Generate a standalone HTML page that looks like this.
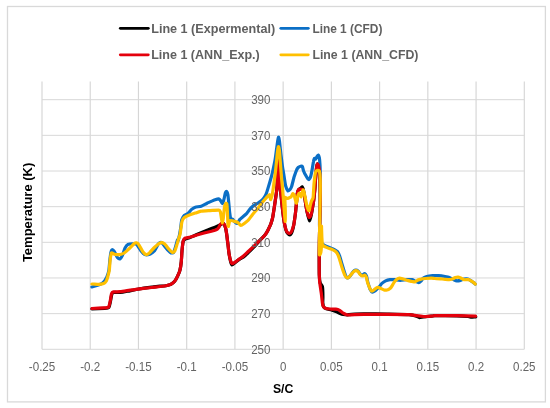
<!DOCTYPE html>
<html><head><meta charset="utf-8"><title>Chart</title>
<style>
html,body{margin:0;padding:0;background:#fff;}
svg{display:block}
text{font-family:"Liberation Sans",sans-serif;}
.t{font-size:12.4px;fill:#646464;}
.lg{font-size:12.2px;font-weight:bold;fill:#606060;}
.ax{font-size:12.6px;font-weight:bold;fill:#000;}
.c{fill:none;stroke-width:3.2;stroke-linecap:round;stroke-linejoin:round;}
</style></head><body>
<svg width="550" height="408" viewBox="0 0 550 408">
<rect x="0" y="0" width="550" height="408" fill="#fff"/>
<rect x="7.5" y="6.5" width="537.9" height="395.4" fill="#fff" stroke="#d9d9d9" stroke-width="1.3"/>
<g stroke="#d6d6d6" stroke-width="1.15" fill="none">
<line x1="42.00" y1="81.6" x2="42.00" y2="349.30"/>
<line x1="90.23" y1="81.6" x2="90.23" y2="349.30"/>
<line x1="138.46" y1="81.6" x2="138.46" y2="349.30"/>
<line x1="186.69" y1="81.6" x2="186.69" y2="349.30"/>
<line x1="234.92" y1="81.6" x2="234.92" y2="349.30"/>
<line x1="283.15" y1="81.6" x2="283.15" y2="349.30"/>
<line x1="331.38" y1="81.6" x2="331.38" y2="349.30"/>
<line x1="379.61" y1="81.6" x2="379.61" y2="349.30"/>
<line x1="427.84" y1="81.6" x2="427.84" y2="349.30"/>
<line x1="476.07" y1="81.6" x2="476.07" y2="349.30"/>
<line x1="524.30" y1="81.6" x2="524.30" y2="349.30"/>
</g><g stroke="#d8d8d8" stroke-width="1" fill="none">
<line x1="42.00" y1="349.30" x2="524.30" y2="349.30"/>
<line x1="42.00" y1="313.64" x2="524.30" y2="313.64"/>
<line x1="42.00" y1="277.98" x2="524.30" y2="277.98"/>
<line x1="42.00" y1="242.32" x2="524.30" y2="242.32"/>
<line x1="42.00" y1="206.66" x2="524.30" y2="206.66"/>
<line x1="42.00" y1="171.00" x2="524.30" y2="171.00"/>
<line x1="42.00" y1="135.34" x2="524.30" y2="135.34"/>
<line x1="42.00" y1="99.68" x2="524.30" y2="99.68"/>
</g>
<text class="t" x="28.8" y="371.0" textLength="26.5" lengthAdjust="spacingAndGlyphs">-0.25</text>
<text class="t" x="80.2" y="371.0" textLength="20.0" lengthAdjust="spacingAndGlyphs">-0.2</text>
<text class="t" x="125.2" y="371.0" textLength="26.5" lengthAdjust="spacingAndGlyphs">-0.15</text>
<text class="t" x="176.7" y="371.0" textLength="20.0" lengthAdjust="spacingAndGlyphs">-0.1</text>
<text class="t" x="221.7" y="371.0" textLength="26.5" lengthAdjust="spacingAndGlyphs">-0.05</text>
<text class="t" x="279.9" y="371.0" textLength="6.4" lengthAdjust="spacingAndGlyphs">0</text>
<text class="t" x="320.1" y="371.0" textLength="22.5" lengthAdjust="spacingAndGlyphs">0.05</text>
<text class="t" x="371.6" y="371.0" textLength="16.0" lengthAdjust="spacingAndGlyphs">0.1</text>
<text class="t" x="416.6" y="371.0" textLength="22.5" lengthAdjust="spacingAndGlyphs">0.15</text>
<text class="t" x="468.1" y="371.0" textLength="16.0" lengthAdjust="spacingAndGlyphs">0.2</text>
<text class="t" x="513.0" y="371.0" textLength="22.5" lengthAdjust="spacingAndGlyphs">0.25</text>
<path class="c" stroke="#000000" d="M91.9,308.8 C93.2,308.8 102.9,308.5 104.6,308.4 C106.3,308.3 108.2,308.2 108.8,307.5 C109.4,306.8 110.1,303.0 110.4,301.7 C110.7,300.4 111.5,295.1 111.8,294.2 C112.1,293.3 112.8,292.7 113.6,292.5 C114.4,292.3 118.9,292.6 120.3,292.5 C121.7,292.4 126.4,291.5 128.0,291.2 C129.6,290.9 133.6,289.9 136.0,289.5 C138.4,289.1 149.3,287.5 151.7,287.2 C154.1,286.9 158.6,286.3 160.0,286.2 C161.4,286.1 164.8,285.9 165.9,285.7 C167.0,285.5 170.1,284.7 171.0,284.3 C171.9,283.9 174.0,282.1 174.7,281.3 C175.4,280.5 177.1,277.3 177.6,276.2 C178.1,275.1 179.5,271.8 179.9,270.3 C180.3,268.8 181.1,263.6 181.3,261.5 C181.5,259.4 181.9,251.7 182.1,249.7 C182.3,247.7 182.9,242.5 183.2,241.4 C183.5,240.3 184.4,239.6 185.0,239.2 C185.6,238.8 188.2,238.3 189.4,237.8 C190.6,237.3 195.3,235.2 196.8,234.6 C198.3,234.0 202.6,232.2 204.1,231.6 C205.6,231.0 210.0,229.2 211.5,228.6 C213.0,228.0 217.6,226.1 218.8,225.6 C220.0,225.1 222.5,223.2 223.2,223.4 C223.9,223.6 225.1,226.6 225.4,227.5 C225.7,228.4 226.3,231.7 226.5,232.9 C226.7,234.2 227.3,238.9 227.4,240.0 C227.5,241.1 227.7,242.4 227.9,243.8 C228.1,245.2 228.8,252.3 229.1,254.1 C229.4,255.9 230.3,260.4 230.6,261.5 C230.9,262.6 231.7,264.9 232.1,265.0 C232.5,265.1 234.2,263.4 235.0,262.8 C235.8,262.2 239.1,259.4 240.0,258.8 C240.9,258.2 242.6,257.7 243.6,257.0 C244.6,256.3 248.4,252.5 249.6,251.4 C250.8,250.3 254.2,246.7 255.3,245.6 C256.4,244.5 259.2,241.0 260.1,240.0 C261.0,239.0 263.8,236.6 264.6,235.6 C265.4,234.6 267.6,230.9 268.2,229.7 C268.8,228.5 270.5,225.0 270.9,223.8 C271.3,222.6 272.3,219.2 272.6,217.9 C272.9,216.6 273.5,212.3 273.8,210.5 C274.1,208.7 275.1,201.9 275.4,199.7 C275.7,197.5 276.7,191.3 276.9,188.5 C277.1,185.7 277.5,175.2 277.6,172.1 C277.8,169.0 278.2,157.4 278.4,157.4 C278.5,157.4 279.0,169.2 279.1,172.1 C279.2,175.0 279.7,183.8 279.9,186.0 C280.1,188.2 280.7,191.8 280.9,193.8 C281.1,195.8 281.8,203.2 282.1,205.6 C282.4,208.0 283.2,215.3 283.5,217.4 C283.8,219.5 284.7,224.7 285.0,226.2 C285.3,227.7 286.3,231.4 286.8,232.3 C287.3,233.2 289.3,234.9 289.8,234.9 C290.3,234.9 291.6,233.0 292.0,232.0 C292.4,231.0 293.5,226.5 293.8,224.7 C294.1,222.9 295.0,216.6 295.3,214.4 C295.6,212.2 296.3,204.7 296.5,202.6 C296.7,200.5 297.1,194.8 297.3,193.5 C297.5,192.2 298.2,190.2 298.6,189.6 C299.0,189.0 300.6,188.3 301.0,188.0 C301.4,187.7 302.0,186.7 302.2,186.8 C302.4,187.0 303.1,188.7 303.3,189.5 C303.5,190.3 304.1,193.7 304.4,195.3 C304.7,196.9 305.6,203.6 305.9,205.6 C306.2,207.6 307.4,213.5 307.8,215.0 C308.2,216.5 309.2,221.0 309.6,221.0 C310.0,221.0 311.0,216.4 311.3,215.0 C311.6,213.6 312.4,208.7 312.6,207.1 C312.9,205.5 313.6,201.3 313.8,199.5 C314.0,197.7 314.7,191.0 314.9,188.8 C315.1,186.7 315.4,180.1 315.6,178.0 C315.8,175.9 316.3,169.4 316.5,168.0 C316.7,166.6 317.2,164.2 317.4,164.0 C317.6,163.8 318.4,165.2 318.6,166.0 C318.8,166.8 319.4,168.6 319.6,172.0 C319.8,175.4 320.2,194.2 320.2,200.0 C320.2,205.8 319.7,224.6 319.6,230.0 C319.5,235.4 319.2,249.5 319.2,254.0 C319.2,258.5 319.2,272.1 319.3,275.0 C319.4,277.9 319.9,281.9 320.2,283.0 C320.5,284.1 322.1,285.1 322.4,286.5 C322.7,287.9 322.9,295.4 322.9,297.0 C322.9,298.6 322.7,302.0 322.8,303.0 C322.9,304.0 323.2,306.2 323.6,306.8 C324.0,307.4 325.5,308.4 326.3,308.7 C327.1,309.0 330.5,309.7 331.5,310.0 C332.5,310.3 335.1,311.2 335.9,311.5 C336.7,311.8 338.9,313.0 339.6,313.3 C340.3,313.6 342.4,314.4 343.2,314.5 C344.0,314.6 346.4,314.9 347.6,314.8 C348.8,314.8 353.4,314.1 355.0,314.0 C356.6,313.9 360.6,313.8 363.8,313.8 C367.0,313.8 382.5,314.0 387.0,314.1 C391.5,314.2 406.1,314.5 409.0,314.7 C411.9,314.9 415.5,315.9 416.5,316.2 C417.5,316.5 418.7,317.5 419.4,317.6 C420.1,317.7 422.6,316.9 423.8,316.8 C425.0,316.7 430.1,316.3 431.2,316.2 C432.3,316.1 433.3,315.8 434.7,315.7 C436.1,315.6 442.8,315.7 445.0,315.7 C447.2,315.7 454.5,315.8 456.8,315.9 C459.1,316.0 466.5,316.4 468.0,316.5 C469.5,316.6 470.7,317.2 471.5,317.2 C472.3,317.2 475.4,316.8 475.8,316.8"/>
<path class="c" stroke="#0b6fc6" d="M91.9,287.0 C92.4,286.9 95.7,286.0 96.8,285.6 C97.9,285.2 101.6,283.8 102.6,283.0 C103.6,282.2 106.2,278.5 106.8,277.2 C107.4,275.9 108.6,272.0 108.9,270.3 C109.2,268.6 109.6,262.2 109.8,260.5 C110.0,258.8 110.6,254.1 110.8,253.0 C111.0,251.9 111.7,249.8 112.1,249.7 C112.5,249.6 113.9,250.9 114.4,251.7 C114.9,252.5 116.9,256.8 117.4,257.5 C118.0,258.2 119.4,259.1 119.9,258.9 C120.4,258.7 121.8,256.7 122.3,255.6 C122.8,254.5 124.6,248.8 125.2,247.7 C125.8,246.6 127.4,244.8 128.1,244.4 C128.8,244.0 131.3,243.8 132.1,243.8 C132.9,243.8 135.5,243.6 136.4,244.3 C137.3,245.0 140.1,249.7 140.9,250.7 C141.7,251.7 143.9,254.2 144.8,254.6 C145.7,254.9 148.7,254.6 149.7,254.2 C150.7,253.8 153.7,251.7 154.6,250.7 C155.5,249.7 157.8,244.6 158.5,243.8 C159.2,243.0 160.8,242.2 161.5,242.5 C162.2,242.8 164.3,246.0 165.0,246.8 C165.7,247.6 167.5,249.8 168.1,250.4 C168.7,251.0 170.5,252.7 171.0,252.9 C171.5,253.1 173.1,253.1 173.5,252.5 C173.9,251.9 175.1,248.2 175.5,247.0 C175.9,245.8 177.1,240.8 177.4,240.1 C177.7,239.4 178.1,241.2 178.4,240.0 C178.7,238.8 180.3,230.5 180.6,228.5 C180.9,226.5 181.4,221.0 181.8,219.7 C182.2,218.4 183.7,215.9 184.3,215.3 C184.9,214.7 187.2,214.1 187.9,213.5 C188.6,212.9 190.9,210.0 191.6,209.4 C192.3,208.8 194.3,207.5 195.3,207.2 C196.3,206.9 200.0,206.6 201.2,206.2 C202.4,205.8 205.8,203.8 207.1,203.2 C208.4,202.6 213.2,200.3 214.4,199.9 C215.6,199.5 218.1,198.7 218.8,198.8 C219.5,198.9 220.6,200.8 221.0,201.3 C221.4,201.8 222.2,203.7 222.5,203.5 C222.8,203.3 223.7,200.2 224.0,199.1 C224.3,198.0 225.1,193.7 225.4,192.9 C225.7,192.1 226.3,191.3 226.6,191.5 C226.8,191.7 227.7,193.5 227.9,194.7 C228.1,195.9 228.6,201.8 228.8,203.5 C229.0,205.2 229.4,210.5 229.6,212.0 C229.8,213.5 230.3,217.8 230.6,218.5 C230.9,219.2 232.4,219.1 232.8,219.4 C233.2,219.8 234.6,221.6 235.0,222.0 C235.4,222.4 236.7,223.8 237.2,223.5 C237.7,223.2 239.4,219.9 240.1,219.2 C240.8,218.4 243.1,216.6 243.8,216.0 C244.5,215.4 246.2,213.9 246.8,213.3 C247.4,212.7 248.9,210.4 249.4,209.8 C249.9,209.2 251.5,207.5 252.0,207.0 C252.5,206.5 254.2,205.2 254.8,204.8 C255.5,204.4 257.8,203.3 258.5,202.8 C259.2,202.3 261.4,200.8 262.0,200.2 C262.6,199.6 263.9,197.9 264.3,197.3 C264.7,196.7 265.8,194.7 266.2,193.8 C266.6,192.9 267.5,189.9 268.1,187.9 C268.7,185.9 271.5,176.3 272.2,173.6 C272.9,170.8 274.5,163.0 275.0,160.4 C275.5,157.8 276.5,149.6 276.8,147.5 C277.1,145.4 277.7,140.8 277.9,139.8 C278.1,138.8 278.4,137.0 278.6,137.2 C278.8,137.4 279.3,139.8 279.5,141.5 C279.7,143.2 280.6,152.0 280.9,154.5 C281.2,157.0 282.1,164.0 282.4,166.2 C282.7,168.4 283.8,174.5 284.1,176.5 C284.4,178.5 285.3,184.6 285.7,186.0 C286.1,187.4 287.5,190.6 287.9,190.9 C288.3,191.2 289.7,189.8 290.1,189.4 C290.5,189.0 291.2,187.6 291.6,186.5 C292.0,185.4 293.4,179.5 293.8,178.0 C294.2,176.5 295.6,172.6 296.0,171.5 C296.4,170.4 297.7,168.0 298.2,167.5 C298.7,167.0 300.2,166.3 300.6,166.2 C301.0,166.1 302.1,166.1 302.4,166.6 C302.7,167.1 303.3,170.2 303.6,171.0 C303.9,171.8 305.0,174.1 305.4,174.8 C305.8,175.5 307.2,177.9 307.6,178.4 C308.0,178.9 308.8,179.7 309.1,179.5 C309.4,179.3 310.3,177.7 310.6,176.8 C310.9,175.9 311.6,172.4 311.9,170.9 C312.2,169.4 313.1,163.3 313.4,162.1 C313.6,160.8 314.2,158.7 314.4,158.4 C314.6,158.1 315.3,159.3 315.6,159.1 C315.9,158.9 316.8,156.9 317.1,156.5 C317.4,156.1 318.0,154.9 318.2,155.0 C318.4,155.1 319.1,156.6 319.3,157.6 C319.5,158.6 319.9,163.0 320.0,165.0 C320.1,167.0 320.3,174.5 320.3,178.0 C320.3,181.5 320.1,195.3 320.0,200.0 C319.9,204.7 319.4,221.2 319.5,225.0 C319.6,228.8 320.2,236.2 320.5,238.0 C320.8,239.8 321.6,242.7 322.0,243.5 C322.4,244.3 324.0,245.2 325.0,245.7 C326.0,246.2 331.1,248.1 332.4,248.7 C333.6,249.3 336.8,250.9 337.5,251.6 C338.2,252.3 339.0,254.3 339.4,255.4 C339.8,256.4 341.0,260.7 341.4,262.1 C341.8,263.5 343.2,268.1 343.6,269.4 C344.0,270.7 345.1,274.4 345.5,275.3 C345.9,276.2 346.7,277.8 347.1,277.9 C347.5,278.0 348.9,277.2 349.3,276.8 C349.7,276.4 351.1,274.7 351.5,274.1 C351.9,273.5 353.3,271.6 353.7,271.2 C354.1,270.8 355.5,270.2 355.9,270.2 C356.3,270.2 357.7,270.8 358.1,271.2 C358.5,271.6 359.9,273.8 360.3,274.2 C360.7,274.6 362.1,275.3 362.5,275.2 C362.9,275.1 364.3,273.4 364.7,273.5 C365.1,273.6 366.2,275.1 366.5,276.0 C366.8,276.9 367.5,281.3 367.9,282.6 C368.3,283.9 369.7,288.3 370.1,289.3 C370.6,290.3 371.9,292.1 372.4,292.2 C372.9,292.3 374.6,291.2 375.3,290.7 C376.0,290.2 378.3,287.8 379.0,287.1 C379.7,286.4 381.2,284.0 381.9,283.4 C382.6,282.8 384.8,281.3 385.6,280.9 C386.4,280.5 389.1,279.8 390.0,279.7 C390.9,279.6 393.4,279.6 394.4,279.7 C395.4,279.8 399.1,280.4 400.3,280.4 C401.5,280.4 405.0,279.8 406.2,279.7 C407.4,279.6 411.2,279.6 412.1,279.7 C413.0,279.8 414.3,280.9 415.0,281.2 C415.7,281.5 418.1,282.6 418.7,282.6 C419.3,282.6 420.5,281.6 420.9,281.2 C421.3,280.8 422.5,278.7 423.1,278.2 C423.7,277.7 425.9,276.8 426.8,276.5 C427.8,276.2 431.4,275.7 432.6,275.6 C433.8,275.5 437.3,275.5 438.5,275.6 C439.7,275.7 443.9,276.3 445.0,276.5 C446.1,276.7 448.6,277.2 449.4,277.5 C450.2,277.8 452.4,279.1 453.1,279.4 C453.8,279.7 456.1,280.8 456.8,280.9 C457.5,281.0 459.7,280.6 460.4,280.4 C461.1,280.2 463.4,279.1 464.1,279.0 C464.8,278.9 467.1,278.8 467.8,279.0 C468.5,279.2 470.9,280.8 471.5,281.2 C472.1,281.6 473.3,282.3 473.7,282.6 C474.1,282.9 475.1,284.0 475.3,284.1"/>
<path class="c" stroke="#e4000c" d="M91.9,308.5 C93.2,308.4 102.9,308.0 104.6,307.9 C106.3,307.8 108.0,307.8 108.5,307.2 C109.0,306.6 109.8,303.0 110.1,301.7 C110.4,300.4 111.2,294.8 111.5,293.8 C111.8,292.8 112.5,292.1 113.4,291.9 C114.3,291.7 118.0,292.0 120.3,291.7 C122.6,291.4 132.9,289.7 136.0,289.3 C139.1,288.9 149.3,287.8 151.7,287.5 C154.1,287.2 158.6,286.7 160.0,286.5 C161.4,286.3 164.8,285.9 165.9,285.7 C167.0,285.5 170.1,284.7 171.0,284.3 C171.9,283.9 174.0,282.1 174.7,281.3 C175.4,280.5 177.1,277.3 177.6,276.2 C178.1,275.1 179.5,271.8 179.9,270.3 C180.3,268.8 181.1,263.6 181.3,261.5 C181.5,259.4 181.9,251.8 182.1,249.7 C182.3,247.6 182.9,242.1 183.2,240.9 C183.5,239.8 184.4,238.6 185.0,238.2 C185.6,237.8 188.2,237.6 189.4,237.3 C190.6,237.0 195.3,235.4 196.8,235.0 C198.3,234.6 202.6,233.4 204.1,233.0 C205.6,232.6 210.2,231.5 211.5,231.2 C212.8,230.9 215.9,230.1 216.6,229.7 C217.3,229.3 218.4,227.9 218.8,227.4 C219.2,226.9 220.0,224.9 220.3,224.5 C220.6,224.1 221.4,223.2 221.8,223.2 C222.2,223.2 223.6,223.7 224.0,224.1 C224.4,224.5 225.2,226.2 225.4,227.1 C225.7,228.0 226.3,231.6 226.5,232.9 C226.7,234.2 227.3,238.9 227.4,240.0 C227.5,241.1 227.7,242.4 227.9,243.8 C228.1,245.2 228.8,252.4 229.1,254.1 C229.4,255.8 230.3,259.7 230.6,260.7 C230.9,261.7 231.7,263.6 232.1,263.7 C232.5,263.8 234.2,262.7 235.0,262.2 C235.8,261.7 239.2,259.1 240.0,258.5 C240.8,257.9 242.3,257.0 243.2,256.2 C244.1,255.4 247.9,251.8 249.1,250.7 C250.3,249.6 253.9,246.2 255.0,245.1 C256.1,244.0 259.1,240.9 260.1,240.0 C261.1,239.1 263.8,236.6 264.6,235.6 C265.4,234.6 267.6,230.9 268.2,229.7 C268.8,228.5 270.5,225.0 270.9,223.8 C271.3,222.6 272.3,219.2 272.6,217.9 C272.9,216.6 273.5,212.3 273.8,210.5 C274.1,208.7 275.1,201.9 275.4,199.7 C275.7,197.5 276.7,191.3 276.9,188.5 C277.1,185.7 277.5,175.2 277.6,172.1 C277.8,169.0 278.2,157.4 278.4,157.4 C278.5,157.4 279.0,169.2 279.1,172.1 C279.2,175.0 279.7,183.8 279.9,186.0 C280.1,188.2 280.7,191.8 280.9,193.8 C281.1,195.8 281.8,203.2 282.1,205.6 C282.4,208.0 283.2,215.3 283.5,217.4 C283.8,219.5 284.7,224.8 285.0,226.2 C285.3,227.6 286.4,231.1 286.8,231.8 C287.2,232.5 288.9,233.6 289.4,233.5 C289.9,233.4 291.2,232.2 291.6,231.3 C292.0,230.4 293.4,226.4 293.8,224.7 C294.2,223.0 295.0,216.6 295.3,214.4 C295.6,212.2 296.3,204.7 296.5,202.6 C296.7,200.5 297.1,194.8 297.3,193.5 C297.5,192.2 298.2,190.0 298.6,189.6 C299.0,189.2 300.8,189.3 301.2,189.4 C301.6,189.5 302.6,189.5 302.9,190.1 C303.2,190.7 304.1,193.8 304.4,195.3 C304.7,196.9 305.6,203.7 305.9,205.6 C306.2,207.5 307.4,213.2 307.8,214.4 C308.2,215.6 309.1,217.5 309.4,217.5 C309.7,217.5 310.9,215.4 311.2,214.4 C311.5,213.4 312.3,208.6 312.6,207.1 C312.9,205.6 313.6,201.3 313.8,199.5 C314.0,197.7 314.7,191.0 314.9,188.8 C315.1,186.7 315.4,180.1 315.6,178.0 C315.8,175.9 316.3,169.4 316.5,168.0 C316.7,166.6 317.2,164.2 317.4,164.0 C317.6,163.8 318.4,165.2 318.6,166.0 C318.8,166.8 319.4,168.6 319.6,172.0 C319.8,175.4 320.2,194.2 320.2,200.0 C320.2,205.8 319.7,224.6 319.6,230.0 C319.5,235.4 319.2,249.5 319.2,254.0 C319.2,258.5 319.2,272.2 319.3,275.0 C319.4,277.8 319.5,280.6 319.7,282.4 C319.9,284.2 320.9,290.6 321.2,292.6 C321.5,294.7 322.2,301.5 322.4,302.9 C322.6,304.3 323.0,306.0 323.4,306.6 C323.8,307.2 325.5,308.2 326.3,308.5 C327.1,308.8 330.5,309.0 331.5,309.1 C332.5,309.2 335.1,309.0 335.9,309.1 C336.7,309.2 338.9,309.9 339.6,310.3 C340.3,310.7 342.4,312.7 343.2,313.2 C344.0,313.7 346.4,314.9 347.6,315.0 C348.8,315.1 353.4,314.8 355.0,314.7 C356.6,314.6 360.6,314.4 363.8,314.4 C367.0,314.4 382.5,314.3 387.0,314.3 C391.5,314.3 406.1,314.6 409.0,314.7 C411.9,314.8 415.0,315.5 416.5,315.7 C418.0,315.9 422.3,316.4 423.8,316.5 C425.3,316.6 430.1,316.3 431.2,316.2 C432.3,316.1 433.3,315.8 434.7,315.7 C436.1,315.6 442.8,315.7 445.0,315.7 C447.2,315.7 453.8,315.6 456.8,315.7 C459.9,315.8 473.6,316.1 475.5,316.2"/>
<path class="c" stroke="#ffc000" d="M91.9,284.0 C92.6,284.0 97.5,284.4 98.7,284.4 C99.9,284.4 102.8,283.9 103.6,283.6 C104.4,283.3 105.9,281.7 106.3,281.0 C106.7,280.3 107.5,277.6 107.8,276.5 C108.1,275.4 109.1,271.9 109.3,270.3 C109.5,268.7 109.9,262.2 110.1,260.5 C110.3,258.8 111.1,253.6 111.5,253.0 C111.9,252.4 113.6,254.0 114.4,254.2 C115.2,254.4 118.3,254.7 119.3,254.6 C120.3,254.5 123.2,253.6 124.2,253.0 C125.2,252.4 128.1,249.6 129.1,248.7 C130.1,247.8 133.3,244.4 134.0,243.8 C134.7,243.2 135.9,242.7 136.4,242.8 C136.9,242.9 138.3,243.9 138.9,244.8 C139.5,245.7 142.1,250.7 142.8,251.7 C143.5,252.7 145.5,254.5 146.2,254.6 C146.9,254.7 148.9,253.3 149.7,252.6 C150.5,251.9 153.5,248.2 154.6,247.2 C155.7,246.2 159.5,243.1 160.5,242.8 C161.5,242.5 163.6,243.2 164.4,243.8 C165.2,244.4 168.0,248.1 168.8,249.0 C169.6,249.9 171.9,252.2 172.5,252.4 C173.1,252.6 174.3,251.8 174.7,251.2 C175.1,250.6 176.1,247.2 176.5,246.0 C176.9,244.8 178.1,240.5 178.4,239.4 C178.7,238.3 179.7,236.1 179.9,235.0 C180.2,233.9 180.7,229.9 180.9,228.5 C181.1,227.1 181.8,222.3 182.1,221.2 C182.4,220.1 183.6,218.1 184.3,217.5 C185.0,216.9 188.3,215.4 189.4,215.0 C190.5,214.6 194.1,213.5 195.3,213.1 C196.5,212.7 199.7,211.4 201.2,211.2 C202.7,210.9 208.2,210.7 210.0,210.6 C211.8,210.5 217.8,210.0 218.8,210.1 C219.8,210.2 220.0,210.8 220.3,211.6 C220.6,212.4 221.2,217.1 221.4,218.2 C221.6,219.3 222.1,223.0 222.3,223.0 C222.5,223.0 223.1,219.7 223.3,218.2 C223.5,216.7 224.2,209.2 224.4,207.7 C224.6,206.2 225.4,203.8 225.7,203.4 C225.9,203.0 226.7,203.0 226.9,204.0 C227.1,205.0 227.4,211.9 227.5,213.8 C227.6,215.8 227.8,222.2 227.9,223.5 C228.0,224.8 228.3,226.6 228.4,226.5 C228.5,226.4 229.1,222.8 229.3,222.2 C229.5,221.6 230.2,220.6 230.8,220.5 C231.4,220.4 234.3,221.3 235.0,221.5 C235.7,221.7 237.3,222.1 237.9,222.5 C238.5,222.9 240.2,225.3 240.9,225.4 C241.6,225.5 243.9,223.7 244.6,223.2 C245.3,222.7 247.4,221.2 248.2,220.3 C249.0,219.4 251.7,215.5 252.6,214.4 C253.5,213.3 256.1,210.5 257.1,209.3 C258.1,208.1 261.2,203.8 262.2,202.6 C263.1,201.4 265.9,198.3 266.6,197.5 C267.3,196.7 269.2,194.4 269.6,194.6 C270.0,194.8 270.4,199.8 270.7,199.7 C271.0,199.6 272.1,195.3 272.4,193.8 C272.7,192.3 273.4,187.2 273.7,185.0 C274.0,182.8 275.1,174.8 275.4,172.1 C275.7,169.4 276.6,160.7 276.8,158.5 C277.0,156.3 277.6,151.0 277.8,149.8 C278.0,148.6 278.4,146.5 278.6,146.6 C278.8,146.7 279.2,149.0 279.4,150.5 C279.6,152.0 280.1,159.5 280.3,162.0 C280.5,164.5 281.1,172.5 281.3,175.1 C281.5,177.7 282.3,185.8 282.5,188.0 C282.7,190.2 283.0,194.5 283.2,196.8 C283.4,199.2 284.1,209.0 284.3,211.5 C284.5,214.0 285.2,221.6 285.3,221.5 C285.4,221.4 285.3,213.4 285.3,211.0 C285.3,208.6 284.8,198.9 284.9,197.7 C285.0,196.4 286.2,198.5 286.6,198.5 C287.0,198.5 288.9,197.9 289.3,197.7 C289.8,197.5 290.8,197.2 291.1,196.8 C291.5,196.4 292.5,193.9 292.8,193.7 C293.1,193.5 293.8,194.3 294.1,195.0 C294.4,195.7 295.3,199.5 295.5,200.3 C295.7,201.1 296.2,203.3 296.4,203.2 C296.6,203.1 297.0,200.2 297.2,199.4 C297.4,198.6 297.9,195.6 298.1,195.0 C298.3,194.4 299.2,193.2 299.4,193.2 C299.6,193.2 300.1,194.2 300.3,194.6 C300.5,195.0 301.0,196.9 301.2,196.8 C301.4,196.7 301.9,193.9 302.1,193.2 C302.3,192.5 302.8,190.1 303.0,189.9 C303.2,189.7 303.7,190.7 303.9,191.5 C304.1,192.3 304.9,196.3 305.2,197.7 C305.5,199.1 306.6,204.4 306.9,205.6 C307.2,206.8 308.1,209.5 308.3,210.0 C308.5,210.5 309.0,210.8 309.2,210.5 C309.4,210.2 309.8,207.4 310.0,206.5 C310.2,205.6 311.1,202.1 311.4,201.2 C311.7,200.3 312.9,198.8 313.1,197.7 C313.3,196.6 313.5,191.9 313.6,190.0 C313.7,188.1 314.3,180.8 314.5,179.0 C314.7,177.2 315.2,173.4 315.5,172.5 C315.8,171.6 317.0,170.5 317.4,170.4 C317.8,170.3 319.0,170.2 319.3,171.1 C319.6,172.0 320.1,176.1 320.2,179.0 C320.3,181.9 320.2,194.9 320.1,200.0 C320.0,205.1 319.7,224.6 319.6,230.0 C319.5,235.4 319.2,251.2 319.3,253.6 C319.4,256.0 320.0,254.6 320.2,254.2 C320.4,253.8 321.1,251.6 321.2,250.0 C321.3,248.4 321.7,240.4 321.7,238.0 C321.7,235.6 321.5,226.0 321.5,226.0 C321.5,226.0 321.8,236.2 321.9,238.0 C322.0,239.8 322.2,243.2 322.3,244.0 C322.4,244.8 322.8,245.3 323.2,245.6 C323.6,245.9 325.6,247.0 326.5,247.4 C327.4,247.8 331.4,249.2 332.4,249.6 C333.3,250.0 335.4,251.2 336.0,251.8 C336.6,252.4 337.8,254.4 338.2,255.4 C338.6,256.4 340.0,260.7 340.4,262.1 C340.8,263.5 342.2,268.1 342.6,269.4 C343.1,270.7 344.4,274.4 344.9,275.3 C345.3,276.2 346.7,277.8 347.1,277.9 C347.5,278.0 348.9,277.2 349.3,276.8 C349.7,276.4 351.1,274.6 351.5,274.1 C351.9,273.6 353.3,272.0 353.7,271.6 C354.1,271.2 355.5,270.6 355.9,270.6 C356.3,270.6 357.7,271.2 358.1,271.6 C358.5,272.0 359.9,274.2 360.3,274.6 C360.7,275.0 362.1,276.0 362.5,276.0 C362.9,276.0 364.3,274.9 364.7,275.0 C365.1,275.1 365.9,276.0 366.2,276.8 C366.5,277.6 367.2,281.4 367.6,282.6 C368.0,283.8 369.4,287.6 369.9,288.5 C370.3,289.4 371.6,291.1 372.1,291.2 C372.6,291.3 374.1,289.7 374.6,289.3 C375.1,288.9 376.9,287.5 377.5,287.4 C378.1,287.3 379.7,287.9 380.4,288.2 C381.1,288.5 383.4,289.8 384.1,290.0 C384.8,290.2 386.5,290.1 387.1,290.0 C387.7,289.9 389.5,288.9 390.0,288.5 C390.5,288.1 391.8,286.3 392.2,285.6 C392.6,284.9 394.0,282.5 394.4,281.9 C394.8,281.3 396.1,279.8 396.6,279.4 C397.1,279.0 398.9,278.2 399.6,278.2 C400.3,278.2 402.4,278.8 403.2,279.0 C404.0,279.2 406.7,280.1 407.6,280.4 C408.5,280.6 411.4,281.4 412.1,281.5 C412.8,281.6 414.5,282.0 415.0,281.9 C415.5,281.8 416.7,280.6 417.2,280.4 C417.7,280.1 419.3,279.6 420.1,279.4 C420.9,279.2 424.2,278.6 425.3,278.5 C426.4,278.4 430.3,278.2 431.2,278.2 C432.1,278.2 433.6,278.4 434.7,278.5 C435.8,278.6 440.6,278.9 442.1,279.0 C443.6,279.1 448.4,279.7 449.4,279.7 C450.4,279.7 451.8,279.2 452.4,279.0 C453.0,278.8 454.7,277.7 455.3,277.5 C455.9,277.3 457.6,277.0 458.2,277.1 C458.8,277.2 460.6,277.9 461.2,278.2 C461.8,278.5 463.4,279.6 464.1,279.7 C464.8,279.8 467.8,279.6 468.5,279.7 C469.2,279.8 471.0,280.9 471.5,281.2 C472.0,281.5 473.3,282.3 473.7,282.6 C474.1,282.9 475.1,284.0 475.3,284.1"/>
<text class="t" x="251.2" y="353.5" textLength="19.3" lengthAdjust="spacingAndGlyphs">250</text>
<text class="t" x="251.2" y="317.8" textLength="19.3" lengthAdjust="spacingAndGlyphs">270</text>
<text class="t" x="251.2" y="282.2" textLength="19.3" lengthAdjust="spacingAndGlyphs">290</text>
<text class="t" x="251.2" y="246.5" textLength="19.3" lengthAdjust="spacingAndGlyphs">310</text>
<text class="t" x="251.2" y="210.9" textLength="19.3" lengthAdjust="spacingAndGlyphs">330</text>
<text class="t" x="251.2" y="175.2" textLength="19.3" lengthAdjust="spacingAndGlyphs">350</text>
<text class="t" x="251.2" y="139.5" textLength="19.3" lengthAdjust="spacingAndGlyphs">370</text>
<text class="t" x="251.2" y="103.9" textLength="19.3" lengthAdjust="spacingAndGlyphs">390</text>
<g class="c" style="stroke-width:2.8">
<line x1="120.3" y1="28.3" x2="148.3" y2="28.3" stroke="#000"/>
<line x1="280.8" y1="28.3" x2="308.3" y2="28.3" stroke="#0b6fc6"/>
<line x1="120.3" y1="54.8" x2="148.3" y2="54.8" stroke="#e4000c"/>
<line x1="280.8" y1="54.8" x2="308.3" y2="54.8" stroke="#ffc000"/>
</g>
<text class="lg" x="151.2" y="32.5" textLength="124" lengthAdjust="spacingAndGlyphs">Line 1 (Expermental)</text>
<text class="lg" x="312.4" y="32.5" textLength="70" lengthAdjust="spacingAndGlyphs">Line 1 (CFD)</text>
<text class="lg" x="151.2" y="59.0" textLength="108.6" lengthAdjust="spacingAndGlyphs">Line 1 (ANN_Exp.)</text>
<text class="lg" x="312.4" y="59.0" textLength="106" lengthAdjust="spacingAndGlyphs">Line 1 (ANN_CFD)</text>
<text class="ax" x="272.9" y="392.9" textLength="20.4" lengthAdjust="spacingAndGlyphs">S/C</text>
<text class="ax" transform="translate(31.7,262.1) rotate(-90)" textLength="99.4" lengthAdjust="spacingAndGlyphs">Temperature (K)</text>
</svg>
</body></html>
